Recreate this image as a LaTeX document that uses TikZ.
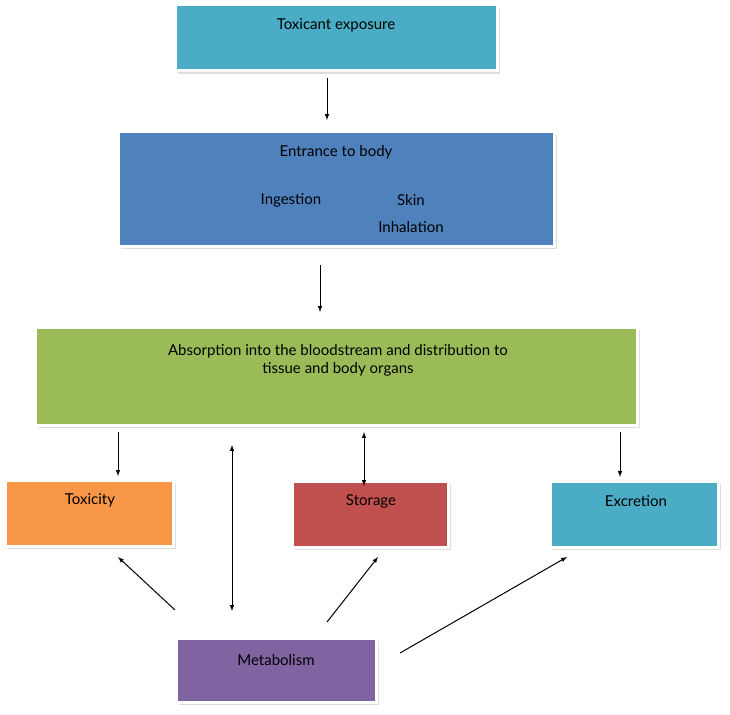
\documentclass[tikz,border=0pt]{standalone}
\usepackage{fontspec}
\setmainfont{Lato}
\usetikzlibrary{shadows}
\definecolor{cTox}{HTML}{4BACC6}
\definecolor{cEnt}{HTML}{4F81BD}
\definecolor{cAbs}{HTML}{9BBB59}
\definecolor{cTxy}{HTML}{F79646}
\definecolor{cSto}{HTML}{C0504D}
\definecolor{cMet}{HTML}{8064A2}
\tikzset{
 box/.style={draw=white,line width=3pt,drop shadow={shadow xshift=3pt,shadow yshift=-3pt,fill=black!25},inner sep=0},
 txt/.style={font=\fontsize{15}{18}\selectfont,inner sep=0},
 arr/.style={-latex,line width=1pt},
 darr/.style={latex-latex,line width=1pt}
}
\begin{document}
\begin{tikzpicture}[x=1pt,y=-1pt]
\useasboundingbox[fill=white] (0,0) rectangle (730,714);
\node[box,fill=cTox,minimum width=322,minimum height=66] (b1) at (336,38) {};
\node[box,fill=cEnt,minimum width=436,minimum height=114] (b2) at (336,189) {};
\node[box,fill=cAbs,minimum width=602,minimum height=98] (b3) at (336,376) {};
\node[box,fill=cTxy,minimum width=168,minimum height=66] (b4) at (89,513) {};
\node[box,fill=cSto,minimum width=156,minimum height=66] (b5) at (370,514) {};
\node[box,fill=cTox,minimum width=168,minimum height=66] (b6) at (634,514) {};
\node[box,fill=cMet,minimum width=200,minimum height=64] (b7) at (276,670) {};
\node[txt] (t1) at (336,25) {Toxicant exposure};
\node[txt] (t2) at (336,152) {Entrance to body};
\node[txt] (t2a) at (291,200) {Ingestion};
\node[txt] (t2b) at (411,200) {Skin};
\node[txt] (t2c) at (411,227) {Inhalation};
\node[txt,align=center] (t3) at (338,360) {Absorption into the bloodstream and distribution to\\tissue and body organs};
\node[txt] (t4) at (90,500) {Toxicity};
\node[txt] (t5) at (371,501) {Storage};
\node[txt] (t6) at (636,501) {Excretion};
\node[txt] (t7) at (276,660) {Metabolism};
\coordinate (a1s) at (327,78); \coordinate (a1e) at (327,120);
\coordinate (a2s) at (320,265); \coordinate (a2e) at (320,312);
\coordinate (a3s) at (118,432); \coordinate (a3e) at (118,476);
\coordinate (a4s) at (364,432); \coordinate (a4e) at (364,486);
\coordinate (a5s) at (232,445); \coordinate (a5e) at (232,611);
\coordinate (a6s) at (620,432); \coordinate (a6e) at (620,477);
\coordinate (a7s) at (175,610); \coordinate (a7e) at (118,557);
\coordinate (a8s) at (327,622); \coordinate (a8e) at (378,557);
\coordinate (a9s) at (400,653); \coordinate (a9e) at (567,557);
\draw[arr] (a1s) -- (a1e);
\draw[arr] (a2s) -- (a2e);
\draw[arr] (a3s) -- (a3e);
\draw[darr] (a4s) -- (a4e);
\draw[darr] (a5s) -- (a5e);
\draw[arr] (a6s) -- (a6e);
\draw[arr] (a7s) -- (a7e);
\draw[arr] (a8s) -- (a8e);
\draw[arr] (a9s) -- (a9e);
\end{tikzpicture}
\end{document}
